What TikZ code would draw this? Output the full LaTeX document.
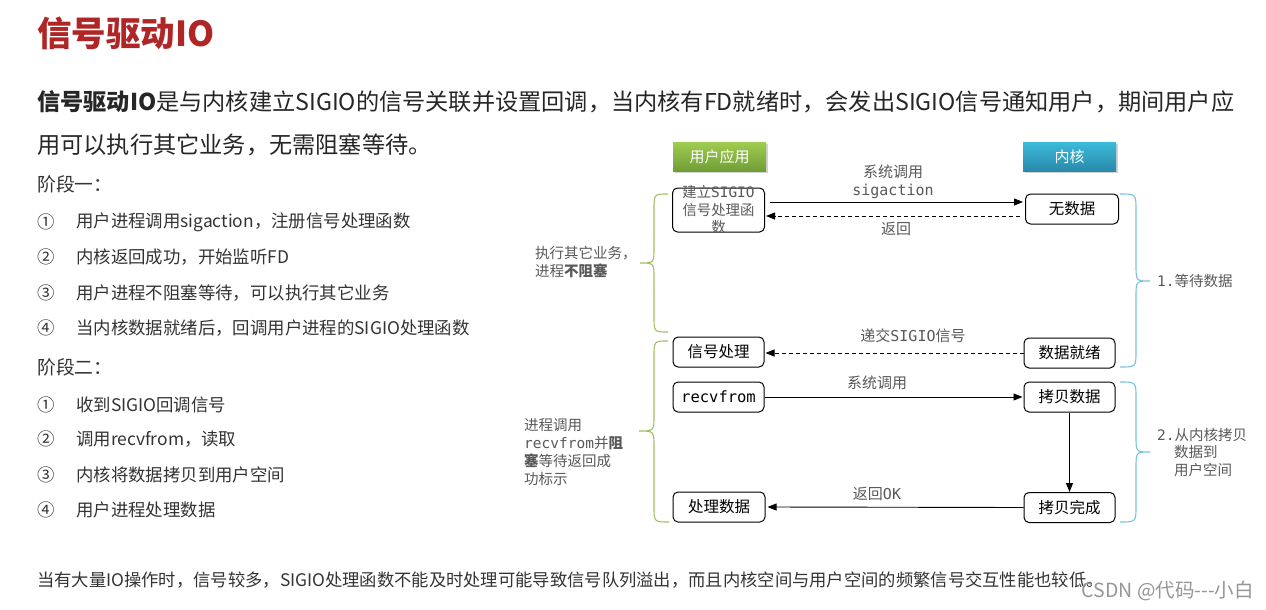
\documentclass[tikz,border=0pt]{standalone}
\usepackage{fontspec}
\setmainfont{Noto Sans CJK SC}
\setmonofont{DejaVu Sans Mono}
\usetikzlibrary{arrows.meta,shadows}

\definecolor{titlered}{RGB}{176,38,38}
\definecolor{bodytxt}{RGB}{38,38,38}
\definecolor{itemtxt}{RGB}{51,51,51}
\definecolor{lbltxt}{RGB}{89,89,89}
\definecolor{bracegreen}{RGB}{160,192,100}
\definecolor{braceblue}{RGB}{120,195,220}
\definecolor{hgreenT}{RGB}{160,204,80}
\definecolor{hgreenB}{RGB}{112,158,54}
\definecolor{hblueT}{RGB}{60,186,218}
\definecolor{hblueB}{RGB}{40,138,170}
\definecolor{wmark}{RGB}{150,150,150}

\newcommand\dgfont{\fontsize{15}{17.5}\selectfont}

\begin{document}
\begin{tikzpicture}[x=1pt,y=-1pt,
  box/.style={draw=black, line width=1pt, rounded corners=5pt, minimum width=92pt,
    minimum height=30pt, inner sep=0pt, font=\fontsize{15.5}{18}\selectfont},
  hdr/.style={minimum width=93pt, minimum height=29pt, inner sep=0pt, text=white,
    font=\fontsize{15}{18}\selectfont,
    drop shadow={shadow xshift=1.5pt, shadow yshift=-2pt, opacity=0.35}},
  lbl/.style={text=lbltxt, inner sep=0pt, font=\dgfont},
  txt/.style={anchor=west, inner sep=0pt},
  arr/.style={-{Triangle[length=9pt,width=7pt]}, line width=0.9pt, black},
  dsh/.style={dash pattern=on 4pt off 3pt},
  gbrace/.style={bracegreen, line width=1.1pt},
  bbrace/.style={braceblue, line width=1.1pt}
]
\useasboundingbox (0,0) rectangle (1266,610);
\fill[white] (0,0) rectangle (1266,610);

% ---------- left text ----------
\node[txt, text=titlered, font=\fontsize{34.5}{38}\bfseries\selectfont] (title) at (37,33) {信号驱动IO};
\node[txt, text=bodytxt, font=\fontsize{23.2}{26}\selectfont] (p1) at (37,102)
  {\textbf{信号驱动IO}是与内核建立SIGIO的信号关联并设置回调，当内核有FD就绪时，会发出SIGIO信号通知用户，期间用户应};
\node[txt, text=bodytxt, font=\fontsize{23.2}{26}\selectfont] (p2) at (37,145)
  {用可以执行其它业务，无需阻塞等待。};

\begin{scope}[every node/.style={txt, text=itemtxt, font=\fontsize{17.4}{20}\selectfont}]
\node (s1) at (37,184) {\fontsize{18.8}{20}\selectfont 阶段一：};
\node (n11) at (37,222) {①}; \node (t11) at (76,222) {用户进程调用sigaction，注册信号处理函数};
\node (n12) at (37,257) {②}; \node (t12) at (76,257) {内核返回成功，开始监听FD};
\node (n13) at (37,293) {③}; \node (t13) at (76,293) {用户进程不阻塞等待，可以执行其它业务};
\node (n14) at (37,328) {④}; \node (t14) at (76,328) {当内核数据就绪后，回调用户进程的SIGIO处理函数};
\node (s2) at (37,367) {\fontsize{18.8}{20}\selectfont 阶段二：};
\node (n21) at (37,405) {①}; \node (t21) at (76,405) {收到SIGIO回调信号};
\node (n22) at (37,439) {②}; \node (t22) at (76,439) {调用recvfrom，读取};
\node (n23) at (37,475) {③}; \node (t23) at (76,475) {内核将数据拷贝到用户空间};
\node (n24) at (37,510) {④}; \node (t24) at (76,510) {用户进程处理数据};
\end{scope}

\node[txt, text=itemtxt, font=\fontsize{17.3}{20}\selectfont] (foot) at (37,580)
  {当有大量IO操作时，信号较多，SIGIO处理函数不能及时处理可能导致信号队列溢出，而且内核空间与用户空间的频繁信号交互性能也较低。};
\node[anchor=east, inner sep=0pt, text=wmark, font=\fontsize{19.5}{21}\selectfont] (wm) at (1254,591) {CSDN @代码-{}-{}-小白};

% ---------- headers ----------
\node[hdr, top color=hgreenT, bottom color=hgreenB] (app) at (719.5,156.5) {用户应用};
\node[hdr, top color=hblueT, bottom color=hblueB] (kern) at (1069.5,156.5) {内核};

% ---------- boxes ----------
\node[box, minimum height=44pt] (setup) at (718.5,210) {};
\node[lbl, align=center, font=\fontsize{14.4}{17.5}\selectfont] (setupt) at (setup)
  {建立\texttt{SIGIO}\\信号处理函\\数};
\node[box, minimum width=93pt] (nodata) at (1072,209) {无数据};
\node[box, minimum width=91pt] (sighd) at (718.5,352) {信号处理};
\node[box, minimum width=91pt] (ready) at (1069.5,353) {数据就绪};
\node[box, minimum width=91pt, font=\ttfamily\fontsize{15.5}{18}\selectfont] (recv) at (718.5,397) {recvfrom};
\node[box, minimum width=91pt] (copy) at (1069.5,397) {拷贝数据};
\node[box] (proc) at (719,507) {处理数据};
\node[box, minimum width=91pt] (done) at (1069.5,507.5) {拷贝完成};

% ---------- connectors ----------
\draw[arr] ([shift={(5,-8)}]setup.east) -- ([shift={(-2,-7)}]nodata.west);
\draw[arr, dsh] ([shift={(-5,7)}]nodata.west) -- ([shift={(1,6)}]setup.east);
\draw[arr, dsh] (ready.west) -- ([shift={(1,1)}]sighd.east);
\draw[arr] (recv.east) -- ([xshift=-1pt]copy.west);
\draw[arr] (copy.south) -- (done.north);
\draw[arr] (done.west) -- ([xshift=2pt]proc.east);

% ---------- connector labels ----------
\node[lbl] (l1a) at (893,172) {系统调用};
\node[lbl] (l1b) at (893,191) {\texttt{sigaction}};
\node[lbl] (l2) at (896,229) {返回};
\node[lbl] (l3) at (913,336) {递交\texttt{SIGIO}信号};
\node[lbl] (l4) at (877,383) {系统调用};
\node[lbl] (l5) at (877,494) {返回\texttt{OK}};

% ---------- braces ----------
\draw[gbrace] (668,194) .. controls (654,194) .. (654,210) -- (654,247)
  .. controls (654,263) .. (640,263) .. controls (654,263) .. (654,279)
  -- (654,316) .. controls (654,332) .. (668,332);
\draw[gbrace] (668,341) .. controls (654,341) .. (654,357) -- (654,415)
  .. controls (654,431) .. (639,431) .. controls (654,431) .. (654,447)
  -- (654,506) .. controls (654,522) .. (669,522);
\draw[bbrace] (1120,194) .. controls (1136,194) .. (1136,210) -- (1136,265)
  .. controls (1136,281) .. (1150,281) .. controls (1136,281) .. (1136,297)
  -- (1136,351) .. controls (1136,367) .. (1120,367);
\draw[bbrace] (1120,382) .. controls (1136,382) .. (1136,398) -- (1136,436)
  .. controls (1136,452) .. (1150,452) .. controls (1136,452) .. (1136,468)
  -- (1136,506) .. controls (1136,522) .. (1120,522);

% ---------- brace labels ----------
\begin{scope}[every node/.style={lbl, anchor=west, font=\fontsize{14.5}{17}\selectfont}]
\node (bl1) at (535,253) {执行其它业务，};
\node (bl2) at (535,271) {进程\textbf{不阻塞}};
\node (bl3) at (524,425) {进程调用};
\node (bl4) at (524,443) {\texttt{recvfrom}并\textbf{阻}};
\node (bl5) at (524,461) {\textbf{塞}等待返回成};
\node (bl6) at (524,479) {功标示};
\node (br1) at (1157,281) {\texttt{1.}等待数据};
\node (br2) at (1157,435) {\texttt{2.}从内核拷贝};
\node (br3) at (1174,452) {数据到};
\node (br4) at (1174,470) {用户空间};
\end{scope}
\end{tikzpicture}
\end{document}
